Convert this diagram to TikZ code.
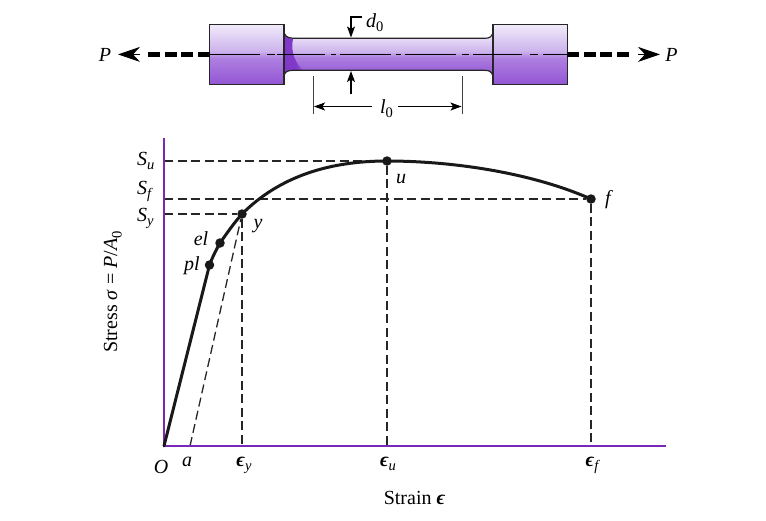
\documentclass[tikz,border=0pt]{standalone}
\usepackage{fontspec}
\setmainfont{Liberation Serif}
\usetikzlibrary{arrows.meta}
\newcommand{\lowsub}[1]{\raisebox{-4.5pt}{\fontsize{14.5}{14.5}\selectfont #1}}
\definecolor{axispurple}{HTML}{7A28B8}
\definecolor{gripA}{HTML}{B48AE4}
\definecolor{gripB}{HTML}{8D4CD2}
\definecolor{gripC}{HTML}{AE80E0}
\definecolor{gripD}{HTML}{CDB4EC}
\definecolor{gripE}{HTML}{F6F1FC}
\definecolor{gripF}{HTML}{C6ACE8}
\definecolor{neckdark}{HTML}{8038C8}
\pgfdeclareverticalshading{gripshade}{100bp}{
  color(0bp)=(gripA);color(4bp)=(gripA);color(20bp)=(gripB);color(47bp)=(gripC);
  color(53bp)=(gripD);color(78bp)=(gripE);color(96bp)=(gripF);color(100bp)=(gripF)}
\pgfdeclarehorizontalshading{neckfade}{100bp}{
  color(0bp)=(neckdark);color(55bp)=(neckdark);color(100bp)=(gripB!70!white)}
\tikzset{
  x=1pt,y=-1pt,
  lab/.style={font=\fontsize{20}{20}\selectfont\itshape,inner sep=0pt,anchor=base},
  labw/.style={font=\fontsize{20}{20}\selectfont\itshape,inner sep=0pt,anchor=base west},
  plain/.style={font=\fontsize{20}{20}\selectfont,inner sep=0pt},
  axisline/.style={draw=axispurple,line width=1.5pt},
  guide/.style={draw=black!85,line width=1.3pt,dash pattern=on 9pt off 4.5pt},
  curveline/.style={draw=black!90,line width=3pt,line cap=round},
  pointdot/.style={circle,fill=black!90,inner sep=0pt,minimum size=9.5pt},
  body/.style={draw=black!85,line width=1.2pt,shading=gripshade},
  loadline/.style={draw=black,line width=5pt,dash pattern=on 12pt off 4.5pt},
  loadtip/.style={-{Stealth[length=22pt,width=15pt,inset=7pt]},draw=black,line width=1pt},
  centre/.style={draw=black,line width=1pt},
  dim/.style={draw=black!75,line width=1pt},
  dimtip/.style={-{Stealth[length=11pt,width=8pt,inset=2.5pt]},draw=black,line width=1.1pt},
}
\begin{document}
\begin{tikzpicture}
\useasboundingbox (0,0) rectangle (766,520);
% plot anchors
\coordinate (O) at (164,446);
\coordinate (ytop) at (164,138);
\coordinate (xend) at (666,446);
\coordinate (a) at (190,446);
\coordinate (ey) at (242,446);
\coordinate (eu) at (387,446);
\coordinate (ef) at (591,446);
\coordinate (su) at (164,161);
\coordinate (sf) at (164,199);
\coordinate (sy) at (164,214);
% specimen
\path[shading=gripshade] (297,38.3) -- (484,38.3) .. controls (490,38.3) and (491,37) .. (493,33) -- (493,75.6) .. controls (491,71.5) and (490,70.3) .. (484,70.3) -- (297,70.3) .. controls (290,70.3) and (286,70) .. (284,75) -- (284,33) .. controls (286,38) and (290,38.3) .. (297,38.3) -- cycle;
\path[shading=neckfade] (284,33) .. controls (287,38) and (290,38.5) .. (293,39) .. controls (290,52) and (296,64) .. (303,70) -- (297,70.3) .. controls (290,70.3) and (286,70) .. (284,75) -- cycle;
\draw[draw=black!85,line width=1.2pt] (493,33) .. controls (491,37) and (490,38.3) .. (484,38.3) -- (297,38.3) .. controls (290,38.3) and (286,38) .. (284,33);
\draw[draw=black!85,line width=1.2pt] (493,75.6) .. controls (491,71.5) and (490,70.3) .. (484,70.3) -- (297,70.3) .. controls (290,70.3) and (286,70) .. (284,75);
\path[body] (209.5,24.7) rectangle (284,84.3);
\path[body] (493,24.7) rectangle (567.3,84.3);
% centre line
\draw[centre] (209.5,54.4) -- (260,54.4) (267,54.4) -- (275,54.4) (277,54.4) -- (325,54.4) (331,54.4) -- (336,54.4) (340,54.4) -- (391,54.4) (396,54.4) -- (401,54.4) (405,54.4) -- (456,54.4) (462,54.4) -- (469,54.4) (473,54.4) -- (522,54.4) (530,54.4) -- (538,54.4) (543,54.4) -- (567.3,54.4);
% loads
\coordinate (gl) at (209.5,54.4);
\coordinate (gr) at (567.3,54.4);
\coordinate (ll) at (146,54.4);
\coordinate (lr) at (632,54.4);
\node[lab] (Pl) at (105,61) {P};
\node[lab] (Pr) at (671.5,61) {P};
\draw[loadline] (gl) -- (ll);
\draw[loadline] (gr) -- (lr);
\coordinate (tl) at (118,54.4);
\coordinate (tr) at (660,54.4);
\coordinate (tlb) at (140,54.4);
\coordinate (trb) at (638,54.4);
\draw[loadtip] (tlb) -- (tl);
\draw[loadtip] (trb) -- (tr);
% d0
\coordinate (d1) at (351,37.5);
\coordinate (d3) at (361.5,17);
\coordinate (d4) at (351,71);
\coordinate (d5) at (351,94);
\draw[dimtip] (d3) -- (351,17) -- (d1);
\draw[dimtip] (d5) -- (d4);
\node[labw] (d0) at (366,27) {d\lowsub{\normalfont 0}};
% l0
\coordinate (lA) at (313.5,76);
\coordinate (lB) at (313.5,114);
\coordinate (lC) at (462,76);
\coordinate (lD) at (462,114);
\coordinate (lm1) at (314,106.5);
\coordinate (lm2) at (461.5,106.5);
\draw[dim] (lA) -- (lB);
\draw[dim] (lC) -- (lD);
\node[lab] (l0) at (386.5,113) {l\lowsub{\normalfont 0}};
\draw[dimtip] (372,106.5) -- (lm1);
\draw[dimtip] (398,106.5) -- (lm2);
% guides
\node[pointdot] (pl) at (209.5,265) {};
\node[pointdot] (el) at (220,243) {};
\node[pointdot] (y) at (242,214) {};
\node[pointdot] (u) at (387,161) {};
\node[pointdot] (f) at (591,199) {};
\draw[guide] (su) -- (u);
\draw[guide] (sf) -- (f);
\draw[guide] (sy) -- (y);
\draw[guide] (y) -- (ey);
\draw[guide] (u) -- (eu);
\draw[guide] (f) -- (ef);
\draw[guide] (a) -- (y);
% axes
\draw[axisline] (ytop) -- (O) -- (xend);
% curve
\draw[curveline] (O) -- (pl.center) .. controls (213,256) and (216,250) .. (el.center) .. controls (227,233) and (234,223) .. (y.center) .. controls (280,176) and (330,161) .. (u.center) .. controls (450,161) and (530,172) .. (f.center);
% labels
\node[labw] at (137,165) {S\lowsub{u}};
\node[labw] at (137,194) {S\lowsub{f}};
\node[labw] at (137,221) {S\lowsub{y}};
\node[lab] at (201,245) {el};
\node[lab] at (192,270) {pl};
\node[lab] at (258,228) {y};
\node[lab] at (401,183) {u};
\node[lab] at (608,204) {f};
\node[lab] at (161,473) {O};
\node[lab] at (187,466) {a};
\node[lab] at (244,466) {\textbf{ϵ}\lowsub{y}};
\node[lab] at (388,466) {\textbf{ϵ}\lowsub{u}};
\node[lab] at (592,466) {\textbf{ϵ}\lowsub{f}};
\node[plain,anchor=base] at (414.5,504) {Strain \textbf{\itshape ϵ}};
\node[plain,rotate=90,anchor=base] at (117,292) {Stress \textit{σ} = \textit{P}/\textit{A}\lowsub{0}};
\end{tikzpicture}
\end{document}
